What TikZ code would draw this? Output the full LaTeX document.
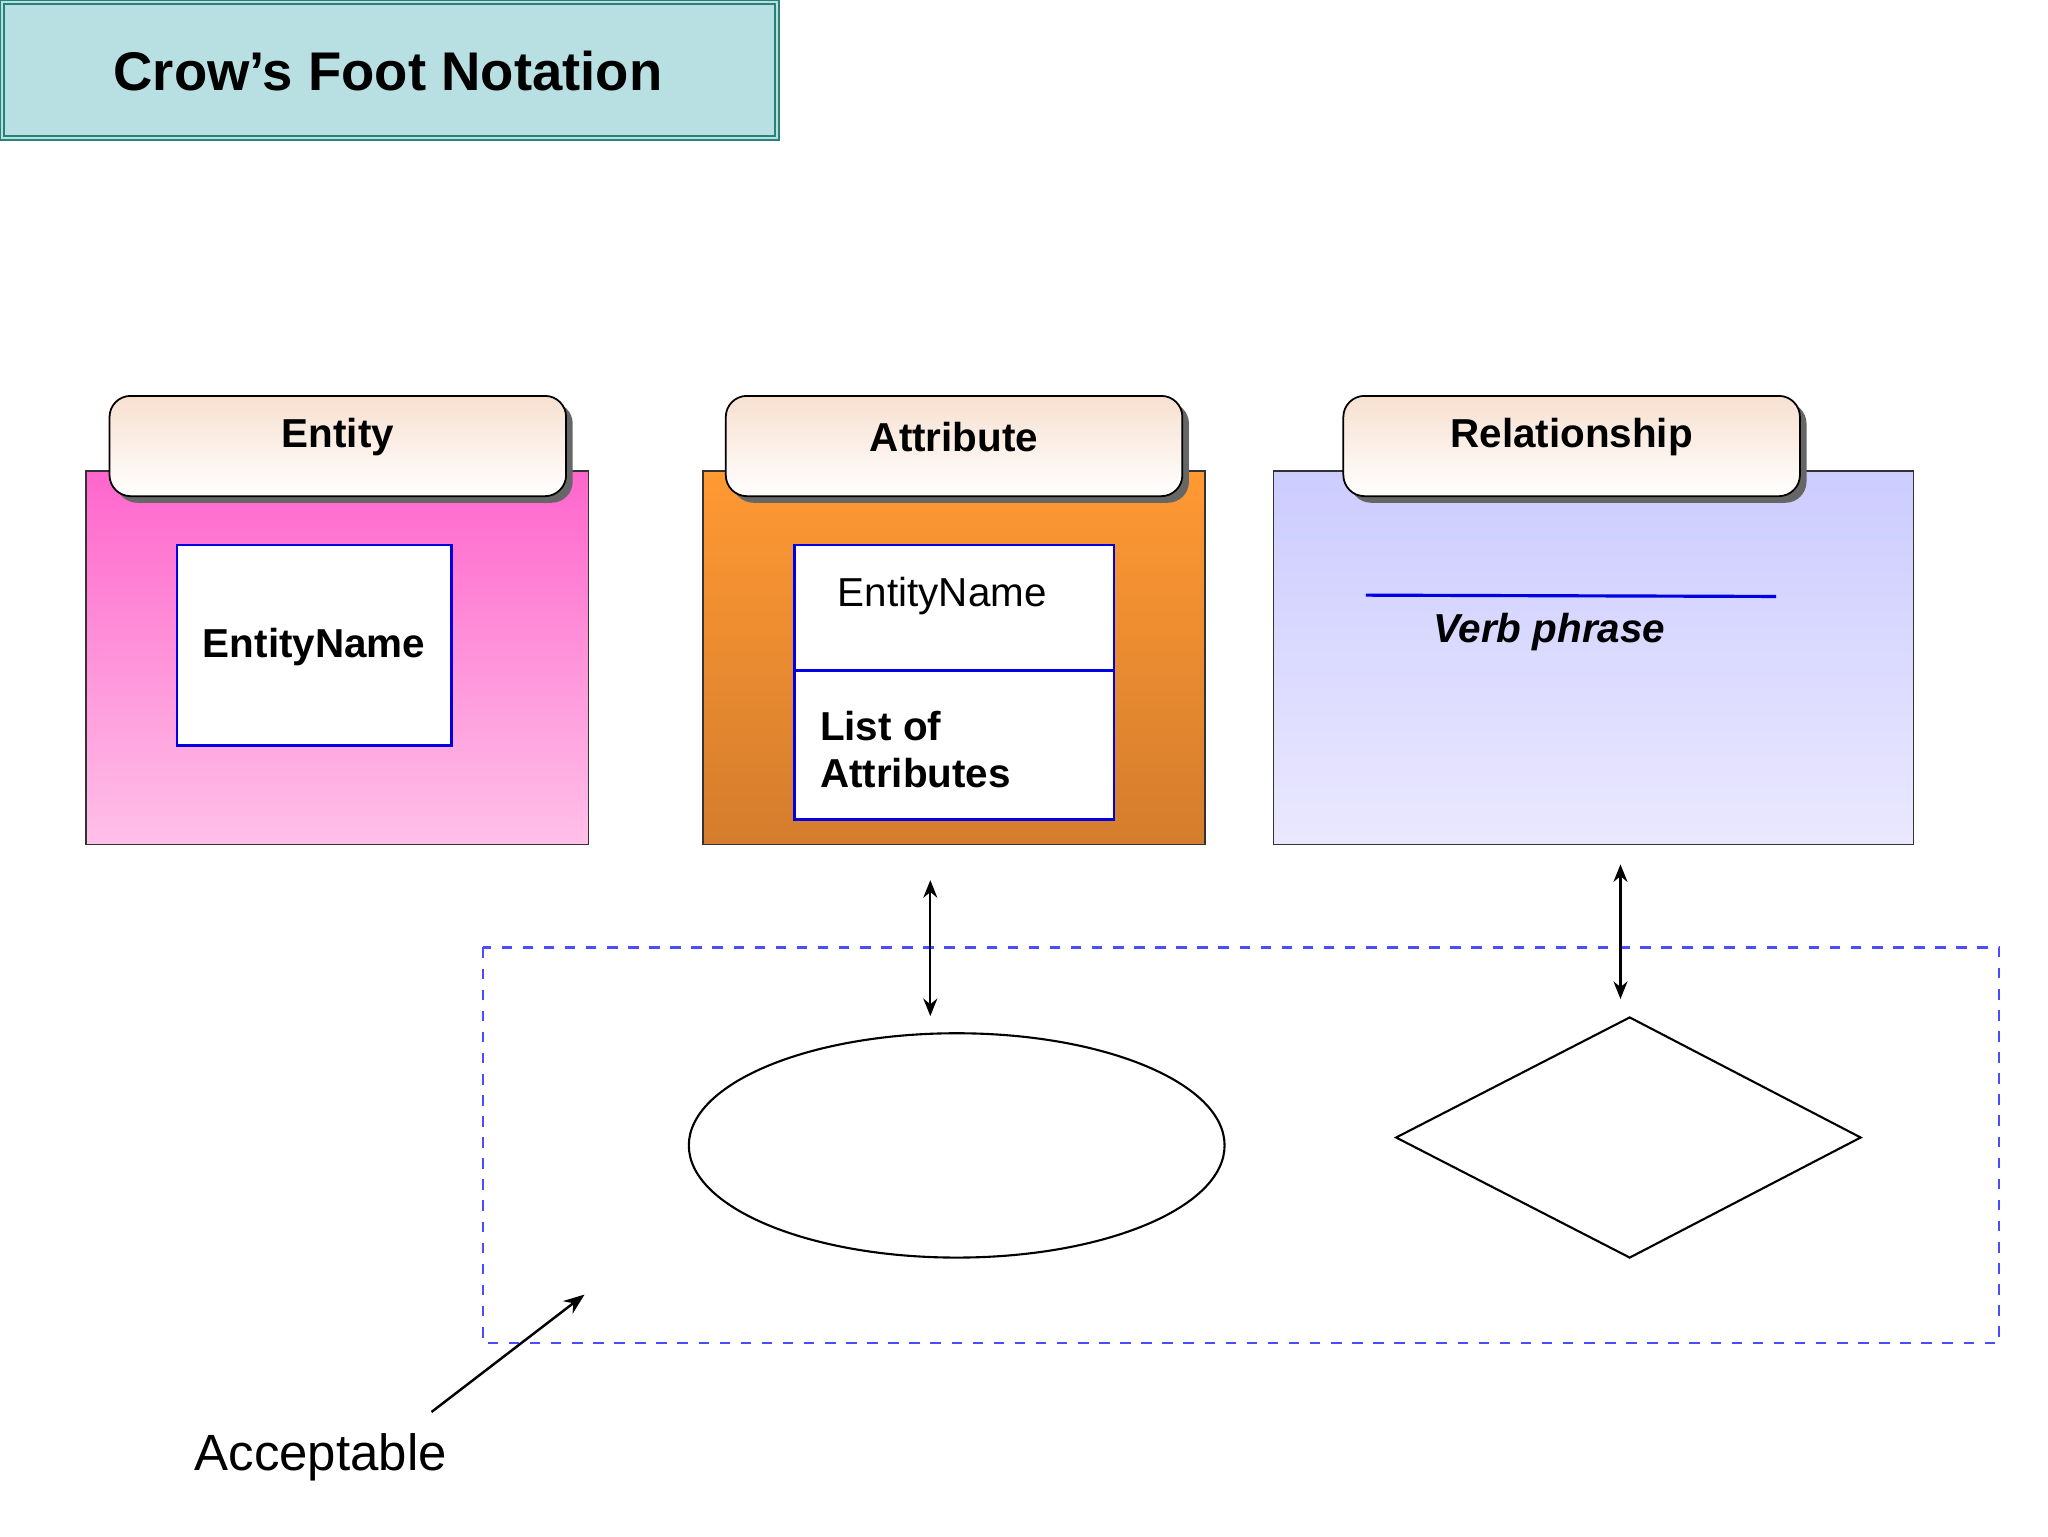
\documentclass[tikz,border=0pt]{standalone}
\usepackage{fontspec}
\setmainfont{Liberation Sans}
\usetikzlibrary{arrows.meta,shapes.geometric}
\definecolor{tealfill}{RGB}{184,224,226}
\definecolor{tealdark}{RGB}{40,130,120}
\definecolor{peach}{RGB}{247,224,208}
\begin{document}
\begin{tikzpicture}[x=0.0132cm,y=-0.0132cm,
  panel/.style={draw=black!80,line width=.5pt},
  tab/.style={draw=black,rounded corners=6pt,top color=peach,bottom color=white,line width=.5pt},
  tabshadow/.style={fill=black!60,rounded corners=6pt},
  tabtext/.style={font=\fontsize{11.5}{13}\selectfont\bfseries},
  inner/.style={draw=blue!90!black,fill=white,line width=.7pt},
  dbl/.style={{Stealth[length=5pt,width=4pt]}-{Stealth[length=5pt,width=4pt]},line width=.6pt}]
\useasboundingbox (0,0) rectangle (1552,1164);
% title
\draw[tealdark,fill=tealfill,line width=.6pt] (0,0) rectangle (590,106);
\draw[tealdark,line width=.6pt] (3,3) rectangle (587,103);
\node[font=\fontsize{15.5}{18}\selectfont\bfseries] (title) at (294,54) {Crow’s Foot Notation};
% entity
\draw[panel,top color={rgb,255:red,255;green,102;blue,204},bottom color={rgb,255:red,255;green,192;blue,232}] (65,357) rectangle (446,640);
\fill[tabshadow] (88,305) rectangle (434,381);
\draw[tab] (83,300) rectangle (429,376);
\node[tabtext] (entity) at (256,331) {Entity};
\draw[inner] (134,413) rectangle (342,565);
\node[font=\fontsize{11.5}{13}\selectfont\bfseries] (ename) at (238,490) {EntityName};
% attribute
\draw[panel,top color={rgb,255:red,255;green,153;blue,51},bottom color={rgb,255:red,212;green,125;blue,45}] (533,357) rectangle (913,640);
\fill[tabshadow] (555,305) rectangle (901,381);
\draw[tab] (550,300) rectangle (896,376);
\node[tabtext] (attr) at (723,331) {Attribute};
\draw[inner] (602,413) rectangle (844,621);
\draw[blue!90!black,line width=.7pt] (602,508) -- (844,508);
\node[font=\fontsize{11.5}{13}\selectfont] (aname) at (714,452) {EntityName};
\node[font=\fontsize{11.5}{13.5}\selectfont\bfseries,align=left,anchor=west] (alist) at (612,568) {List of\\Attributes};
% relationship
\draw[panel,top color={rgb,255:red,204;green,204;blue,255},bottom color={rgb,255:red,234;green,232;blue,255}] (965,357) rectangle (1450,640);
\fill[tabshadow] (1023,305) rectangle (1369,381);
\draw[tab] (1018,300) rectangle (1364,376);
\node[tabtext] (rel) at (1191,331) {Relationship};
\draw[blue!90!black,line width=.9pt] (1035,451) -- (1346,452);
\node[font=\fontsize{11.5}{13}\selectfont\bfseries\itshape] (verb) at (1174,479) {Verb phrase};
% acceptable area
\draw[blue!70,dashed,line width=.6pt] (366,718) rectangle (1515,1018);
\draw[line width=.6pt] (725,868) ellipse [x radius=203, y radius=85];
\coordinate (dl) at (1058,862); \coordinate (dt) at (1235,771);
\coordinate (dr) at (1410,862); \coordinate (db) at (1235,953);
\draw[line width=.6pt] (dl) -- (dt) -- (dr) -- (db) -- cycle;
\coordinate (a1) at (705,667); \coordinate (a2) at (705,770);
\coordinate (r1) at (1228,655); \coordinate (r2) at (1228,757);
\draw[dbl] (a1) -- (a2);
\draw[dbl] (r1) -- (r2);
\node[font=\fontsize{14.5}{17}\selectfont] (acc) at (243,1104) {Acceptable};
\coordinate (p1) at (327,1070); \coordinate (p2) at (443,981);
\draw[-{Stealth[length=6pt,width=4.5pt]},line width=.7pt] (p1) -- (p2);
\end{tikzpicture}
\end{document}
